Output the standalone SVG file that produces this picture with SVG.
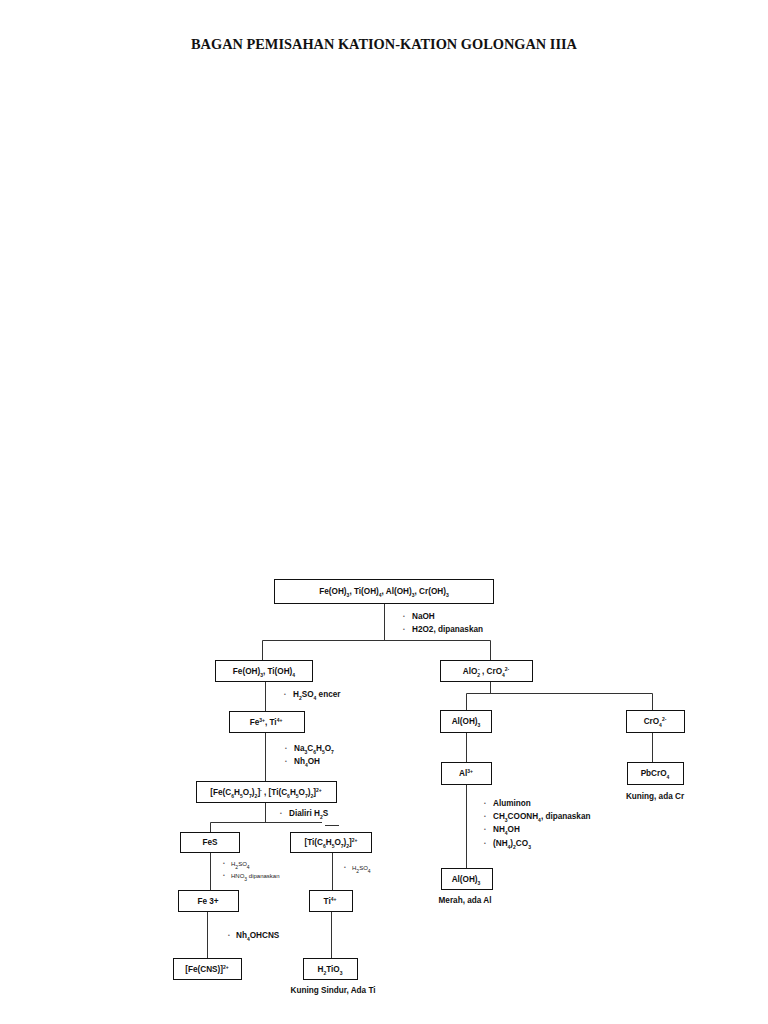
<svg xmlns="http://www.w3.org/2000/svg" width="768" height="1024" viewBox="0 0 768 1024">
<style>
.title{font-family:"Liberation Serif",serif;font-weight:bold;font-size:15px;fill:#111;}
.t{font-family:"Liberation Sans",Arial,sans-serif;font-weight:bold;font-size:8.2px;fill:#111;}
.ts{font-family:"Liberation Sans",Arial,sans-serif;font-size:6px;fill:#222;}
.c{text-anchor:middle;}
.b{font-family:"Liberation Sans",Arial,sans-serif;font-size:5px;fill:#555;}
.box{fill:#fff;stroke:#111;stroke-width:1;}
.ln{fill:none;stroke:#333;stroke-width:1;}
.s{font-size:5px;baseline-shift:sub;}
.p{font-size:5px;baseline-shift:super;}
</style>
<rect width="768" height="1024" fill="#fff"/>
<text class="title c" x="384" y="49" textLength="386" lengthAdjust="spacingAndGlyphs">BAGAN PEMISAHAN KATION-KATION GOLONGAN IIIA</text>

<g id="connectors">
<path class="ln" d="M384.5 603V640.5M262.5 640.5H490.5M262.5 640.5V660M490.5 640.5V660"/>
<path class="ln" d="M265.5 682V711M265.5 733V781M265.5 802V822.5M210.5 822.5H322M210.5 822.5V832M325 825.5H339"/>
<path class="ln" d="M210.5 853V890M207.5 912V958M332.5 853V890M331.5 912V958"/>
<path class="ln" d="M490.5 682V693.5M466.5 693.5H652.5M466.5 693.5V710M652.5 693.5V710M466.5 733V762M652.5 733V762M466.5 785V868"/>
</g>

<g id="n-top"><rect class="box" x="274.5" y="579.5" width="219" height="24"/>
<text class="t c" x="384" y="594">Fe(OH)<tspan class="s">3</tspan>, Ti(OH)<tspan class="s">4</tspan>, Al(OH)<tspan class="s">3</tspan>, Cr(OH)<tspan class="s">3</tspan></text></g>
<g id="l-naoh"><text class="b" x="403" y="618">•</text><text class="t" x="412" y="619">NaOH</text>
<text class="b" x="403" y="631">•</text><text class="t" x="412" y="632">H2O2, dipanaskan</text></g>

<g id="n-feti-oh"><rect class="box" x="215.5" y="660.5" width="97" height="21"/>
<text class="t c" x="264" y="674">Fe(OH)<tspan class="s">3</tspan>, Ti(OH)<tspan class="s">4</tspan></text></g>
<g id="n-alo2"><rect class="box" x="440.5" y="660.5" width="92" height="21"/>
<text class="t c" x="486" y="674">AlO<tspan class="s">2</tspan><tspan class="p" dx="-2">-</tspan> , CrO<tspan class="s">4</tspan><tspan class="p">2-</tspan></text></g>

<g id="l-h2so4"><text class="b" x="284" y="696">•</text><text class="t" x="293" y="697">H<tspan class="s">2</tspan>SO<tspan class="s">4</tspan> encer</text></g>
<g id="n-fe3ti4"><rect class="box" x="229.5" y="711.5" width="75" height="21"/>
<text class="t c" x="266" y="725">Fe<tspan class="p">3+</tspan>, Ti<tspan class="p">4+</tspan></text></g>
<g id="l-citrate"><text class="b" x="285" y="750">•</text><text class="t" x="294" y="751">Na<tspan class="s">3</tspan>C<tspan class="s">6</tspan>H<tspan class="s">5</tspan>O<tspan class="s">7</tspan></text>
<text class="b" x="285" y="763">•</text><text class="t" x="294" y="764">Nh<tspan class="s">4</tspan>OH</text></g>
<g id="n-complex"><rect class="box" x="196.5" y="781.5" width="140" height="21"/>
<text class="t c" x="266" y="795">[Fe(C<tspan class="s">6</tspan>H<tspan class="s">5</tspan>O<tspan class="s">7</tspan>)<tspan class="s">2</tspan>]<tspan class="p">-</tspan> , [Ti(C<tspan class="s">6</tspan>H<tspan class="s">5</tspan>O<tspan class="s">7</tspan>)<tspan class="s">2</tspan>]<tspan class="p">2+</tspan></text></g>
<g id="l-h2s"><text class="b" x="280" y="815">•</text><text class="t" x="289" y="816">Dialiri H<tspan class="s">2</tspan>S</text></g>

<g id="n-fes"><rect class="box" x="180.5" y="832.5" width="59" height="20"/>
<text class="t c" x="210" y="845">FeS</text></g>
<g id="n-ticomplex"><rect class="box" x="290.5" y="832.5" width="81" height="20"/>
<text class="t c" x="331" y="845">[Ti(C<tspan class="s">6</tspan>H<tspan class="s">5</tspan>O<tspan class="s">7</tspan>)<tspan class="s">2</tspan>]<tspan class="p">2+</tspan></text></g>
<g id="l-hno3"><text class="b" x="223" y="865">•</text><text class="ts" x="231" y="866">H<tspan class="s">2</tspan>SO<tspan class="s">4</tspan></text>
<text class="b" x="223" y="877">•</text><text class="ts" x="231" y="878">HNO<tspan class="s">3</tspan> dipanaskan</text></g>
<g id="l-h2so4b"><text class="b" x="344" y="869">•</text><text class="ts" x="352" y="870">H<tspan class="s">2</tspan>SO<tspan class="s">4</tspan></text></g>

<g id="n-fe3"><rect class="box" x="178.5" y="890.5" width="60" height="21"/>
<text class="t c" x="208" y="904">Fe 3+</text></g>
<g id="n-ti4"><rect class="box" x="309.5" y="890.5" width="43" height="21"/>
<text class="t c" x="330" y="904">Ti<tspan class="p">4+</tspan></text></g>
<g id="l-cns"><text class="b" x="228" y="937">•</text><text class="t" x="236" y="938">Nh<tspan class="s">4</tspan>OHCNS</text></g>
<g id="n-fecns"><rect class="box" x="173.5" y="958.5" width="68" height="21"/>
<text class="t c" x="207" y="972">[Fe(CNS)]<tspan class="p">2+</tspan></text></g>
<g id="n-h2tio3"><rect class="box" x="303.5" y="958.5" width="54" height="21"/>
<text class="t c" x="330" y="972">H<tspan class="s">2</tspan>TiO<tspan class="s">3</tspan></text></g>
<text class="t c" x="333" y="993">Kuning Sindur, Ada Ti</text>

<g id="n-aloh"><rect class="box" x="440.5" y="710.5" width="51" height="22"/>
<text class="t c" x="466" y="724">Al(OH)<tspan class="s">3</tspan></text></g>
<g id="n-cro4"><rect class="box" x="626.5" y="710.5" width="58" height="22"/>
<text class="t c" x="655" y="724">CrO<tspan class="s">4</tspan><tspan class="p">2-</tspan></text></g>
<g id="n-al3"><rect class="box" x="441.5" y="762.5" width="50" height="22"/>
<text class="t c" x="466" y="776">Al<tspan class="p">3+</tspan></text></g>
<g id="n-pbcro4"><rect class="box" x="627.5" y="762.5" width="56" height="22"/>
<text class="t c" x="655" y="776">PbCrO<tspan class="s">4</tspan></text></g>
<text class="t c" x="655" y="799">Kuning, ada Cr</text>
<g id="l-aluminon">
<text class="b" x="484" y="805">•</text><text class="t" x="493" y="806">Aluminon</text>
<text class="b" x="484" y="818">•</text><text class="t" x="493" y="819">CH<tspan class="s">3</tspan>COONH<tspan class="s">4</tspan>, dipanaskan</text>
<text class="b" x="484" y="831">•</text><text class="t" x="493" y="832">NH<tspan class="s">4</tspan>OH</text>
<text class="b" x="484" y="845">•</text><text class="t" x="493" y="846">(NH<tspan class="s">4</tspan>)<tspan class="s">2</tspan>CO<tspan class="s">3</tspan></text></g>
<g id="n-aloh2"><rect class="box" x="441.5" y="868.5" width="51" height="21"/>
<text class="t c" x="466" y="882">Al(OH)<tspan class="s">3</tspan></text></g>
<text class="t c" x="465" y="903">Merah, ada Al</text>
</svg>
